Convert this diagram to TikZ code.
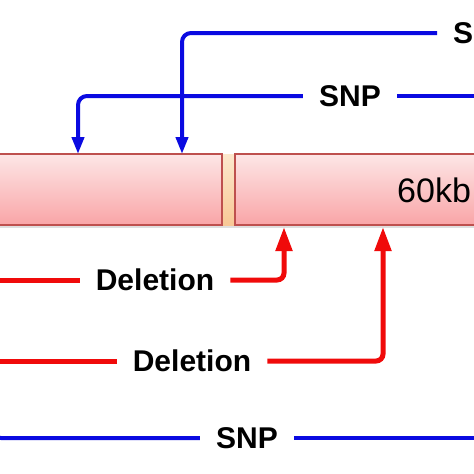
\documentclass[tikz,border=0pt]{standalone}
\usepackage{fontspec}
\setmainfont{Liberation Sans}
\usetikzlibrary{arrows.meta,positioning,calc}
\definecolor{snpblue}{RGB}{10,10,225}
\definecolor{delred}{RGB}{240,10,10}
\definecolor{segedge}{RGB}{190,80,78}
\definecolor{segtop}{RGB}{253,230,230}
\definecolor{segbot}{RGB}{249,165,167}
\definecolor{gaptop}{RGB}{252,232,205}
\definecolor{gapbot}{RGB}{248,200,150}

\begin{document}
\begin{tikzpicture}[x=1pt,y=-1pt,
 lbl/.style={font=\fontsize{30}{30}\selectfont\bfseries,inner xsep=16pt,inner ysep=0pt},
 snpline/.style={draw=snpblue,line width=4pt,rounded corners=9pt},
 snparrow/.style={snpline,-{Triangle[length=17pt,width=12pt]}},
 delline/.style={draw=delred,line width=5pt,rounded corners=7pt},
 delarrow/.style={delline,-{Triangle[length=24pt,width=16pt]}},
 seg/.style={draw=segedge,line width=1.2pt,top color=segtop,bottom color=segbot}]
\useasboundingbox (0,0) rectangle (474,474);
\clip (0,0) rectangle (474,474);
% chromosome bar
\fill[black!25,opacity=0.5] (-20,158) rectangle (500,228);
\fill[top color=gaptop,bottom color=gapbot] (222,154) rectangle (235,225);
\draw[seg] (-20,154) rectangle (222,225);
\draw[seg] (235,154) rectangle (500,225);
\node[font=\fontsize{34}{34}\selectfont,inner sep=0pt,anchor=west] (size) at (397,190) {60kb};
% targets on the bar
\coordinate (t1) at (78,154); \coordinate (t2) at (182,154);
\coordinate (t3) at (284,227); \coordinate (t4) at (383,227);
\coordinate (t5) at (-8,227);
% labels
\node[lbl] (snpA) at (350,96) {SNP};
\node[lbl,anchor=west] (snpB) at (437,33) {SNP};
\node[lbl] (delA) at (155,280) {Deletion};
\node[lbl] (delB) at (192,361) {Deletion};
\node[lbl] (snpC) at (247,438) {SNP};
% free ends beyond the frame
\coordinate (eA) at (490,96); \coordinate (eC) at (490,438);
\coordinate (eD) at (-20,280); \coordinate (eE) at (-20,361);
% connectors
\draw[snparrow] (snpA.west) -| (t1); \draw[snpline] (snpA.east) -- (eA);
\draw[snparrow] (snpB.west) -| (t2);
\draw[delarrow] (delA.east) -| (t3); \draw[delline] (delA.west) -- (eD);
\draw[delarrow] (delB.east) -| (t4); \draw[delline] (delB.west) -- (eE);
\draw[snparrow] (snpC.west) -| (t5); \draw[snpline] (snpC.east) -- (eC);
\end{tikzpicture}
\end{document}
